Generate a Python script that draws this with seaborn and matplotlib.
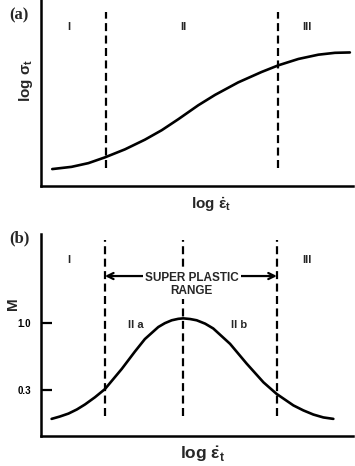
import matplotlib
matplotlib.use("Agg")
import matplotlib.pyplot as plt
import numpy as np
import pandas as pd
import seaborn as sns

# ---------------- data ----------------
# Panel (a): log flow stress vs log strain rate (arbitrary units 0-100)
a_log_rate = [3.6, 9.8, 15.2, 20.5, 26.9, 33.3, 38.7, 44.0, 50.4, 55.8,
              63.2, 70.7, 76.1, 82.5, 88.9, 94.2, 99.0]
a_log_stress = [9.1, 10.3, 12.3, 15.4, 19.7, 24.9, 30.0, 35.9, 43.4, 49.0,
                55.7, 61.3, 64.9, 68.3, 70.6, 71.6, 71.8]
a_boundaries = [20.8, 76.0]
a_regions = ["I", "II", "III"]

# Panel (b): strain-rate sensitivity M vs log strain rate
b_log_rate = [3.4, 6.0, 8.8, 11.5, 14.1, 17.3, 20.5, 25.9, 30.1, 33.3,
              37.6, 39.7, 41.9, 44.0, 45.6, 47.8, 49.9, 52.6, 55.2, 60.6,
              65.9, 71.3, 75.5, 80.9, 84.1, 87.3, 90.5, 93.7]
b_m = [0.00, 0.024, 0.055, 0.098, 0.15, 0.225, 0.31, 0.52, 0.70, 0.83,
       0.955, 0.995, 1.025, 1.040, 1.045, 1.038, 1.025, 0.99, 0.94, 0.78,
       0.575, 0.38, 0.26, 0.14, 0.088, 0.045, 0.015, 0.00]
b_boundaries = [20.5, 45.4, 75.6]
b_regions = ["I", "II a", "II b", "III"]
b_yticks = [0.3, 1.0]
b_yticklabels = ["0.3", "1.0"]
range_label = "SUPER PLASTIC\nRANGE"

# ---------------- style ----------------
sns.set_style("white")
plt.rcParams["font.family"] = ["Liberation Sans", "DejaVu Sans"]
plt.rcParams["font.weight"] = "bold"
plt.rcParams["mathtext.fontset"] = "custom"
plt.rcParams["mathtext.rm"] = "Liberation Sans:bold"
plt.rcParams["mathtext.it"] = "Liberation Sans:bold"
plt.rcParams["mathtext.bf"] = "Liberation Sans:bold"

W, H = 355, 466
fig = plt.figure(figsize=(W / 100, H / 100), dpi=100)
fig.patch.set_facecolor("white")

ax_a = fig.add_axes([41 / W, 1 - 186 / H, 312 / W, 186 / H])
ax_b = fig.add_axes([41 / W, 1 - 436 / H, 312 / W, 202 / H])

dash = (0, (3.6, 2.0))
spine_lw = 1.8
curve_lw = 1.9

for ax in (ax_a, ax_b):
    for s in ("top", "right"):
        ax.spines[s].set_visible(False)
    for s in ("left", "bottom"):
        ax.spines[s].set_linewidth(spine_lw)
        ax.spines[s].set_color("black")
    ax.set_xticks([])
    ax.set_facecolor("white")

# ---- panel (a)
df_a = pd.DataFrame({"rate": a_log_rate, "stress": a_log_stress})
sns.lineplot(data=df_a, x="rate", y="stress", ax=ax_a, color="black",
             lw=curve_lw, sort=False)
ax_a.lines[-1].set_solid_joinstyle("round")
for xb in a_boundaries:
    ax_a.plot([xb, xb], [9.5, 93.5], color="black", lw=1.6, ls=dash)
ax_a.set_xlim(0, 100)
ax_a.set_ylim(0, 100)
ax_a.set_yticks([])
ax_a.set_xlabel("")
ax_a.set_ylabel("")
for lab, xp in zip(a_regions, [9.0, 45.5, 85.3]):
    ax_a.text(xp, 85.5, lab, ha="center", va="center", fontsize=8,
              fontweight="bold")

# ---- panel (b)
df_b = pd.DataFrame({"rate": b_log_rate, "M": b_m})
sns.lineplot(data=df_b, x="rate", y="M", ax=ax_b, color="black",
             lw=curve_lw, sort=False)
ax_b.lines[-1].set_solid_joinstyle("round")
for xb in b_boundaries:
    ax_b.plot([xb, xb], [0.03, 1.86], color="black", lw=1.6, ls=dash,
              zorder=2)
ax_b.set_xlim(0, 100)
ax_b.set_ylim(-0.178, 1.922)
ax_b.set_yticks(b_yticks)
ax_b.set_yticklabels(b_yticklabels, fontsize=7, fontweight="bold")
ax_b.tick_params(axis="y", direction="in", length=8, width=1.6, pad=7,
                 left=True, colors="black")
ax_b.set_xlabel("")
ax_b.set_ylabel("")
for lab, xp, yp in zip(b_regions, [9.0, 30.4, 63.5, 85.3],
                       [1.652, 0.976, 0.976, 1.652]):
    ax_b.text(xp, yp, lab, ha="center", va="center", fontsize=8,
              fontweight="bold")

arrow_y = 1.485
ax_b.annotate("", xy=(b_boundaries[0], arrow_y),
              xytext=(b_boundaries[2], arrow_y),
              arrowprops=dict(arrowstyle="<->", lw=1.6, color="black",
                              shrinkA=0, shrinkB=0, mutation_scale=11),
              zorder=3)
ax_b.text(48.3, 1.40, range_label, ha="center", va="center", fontsize=8.5,
          fontweight="bold", linespacing=1.12, zorder=5,
          bbox=dict(facecolor="white", edgecolor="none", pad=1.5))

# ---- figure-level labels
fig.text(19 / W, 1 - 15 / H, "(a)", family="Liberation Serif",
         fontweight="bold", fontsize=12, ha="center", va="center")
fig.text(19 / W, 1 - 238 / H, "(b)", family="Liberation Serif",
         fontweight="bold", fontsize=12, ha="center", va="center")
fig.text(26 / W, 1 - 80 / H, r"log σ$_t$", rotation=90, fontsize=11,
         fontweight="bold", ha="center", va="center")
fig.text(211 / W, 1 - 205 / H, r"log $\dot{\varepsilon}_t$", fontsize=11,
         fontweight="bold", ha="center", va="center")
fig.text(13 / W, 1 - 304 / H, "M", rotation=90, fontsize=11,
         fontweight="bold", ha="center", va="center")
fig.text(203 / W, 1 - 454 / H, r"log $\dot{\varepsilon}_t$", fontsize=12.5,
         fontweight="bold", ha="center", va="center")

fig.savefig("out.png", dpi=100, facecolor="white")
